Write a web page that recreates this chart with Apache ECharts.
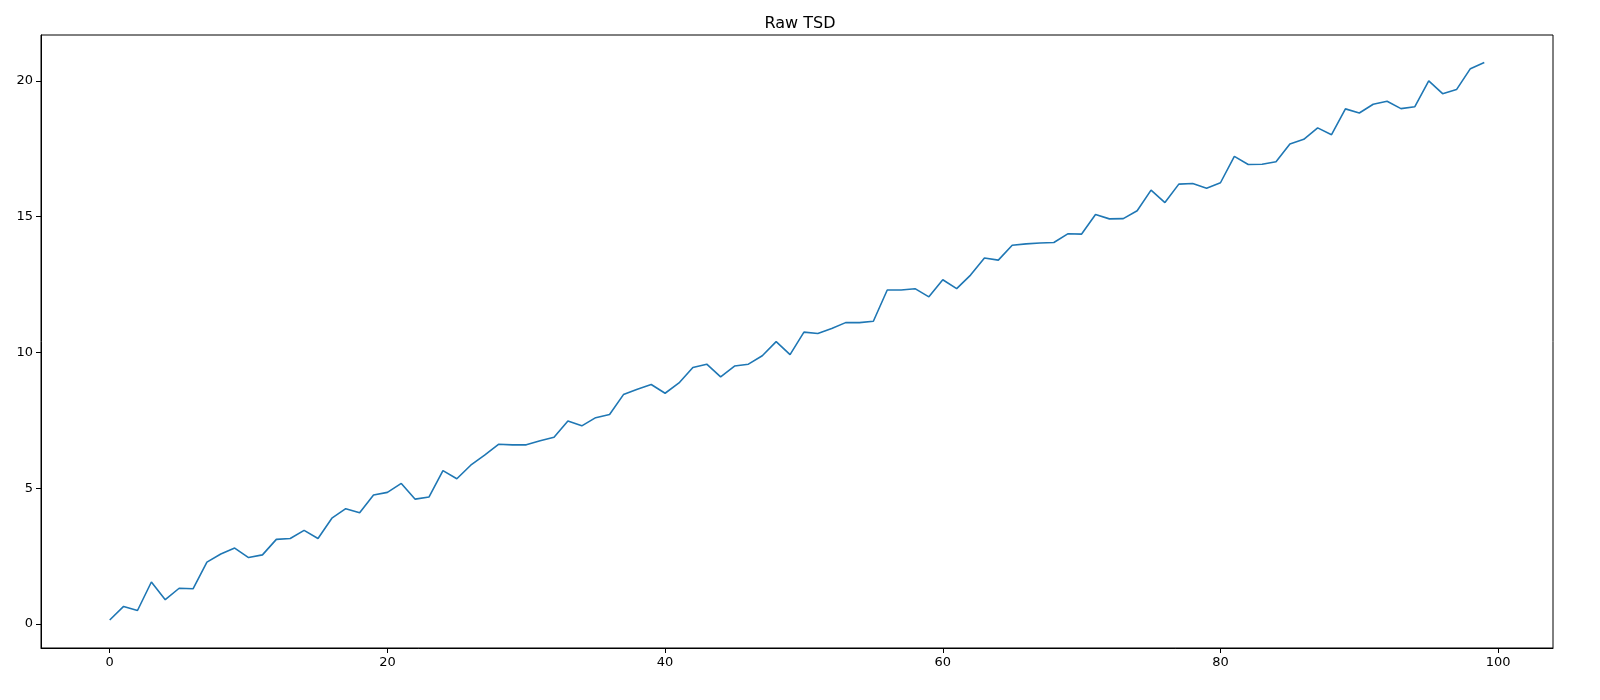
<!DOCTYPE html><html><head><meta charset="utf-8"><script src="https://cdn.jsdelivr.net/npm/echarts@6/dist/echarts.min.js"></script>
<style>html,body{margin:0;background:#fff;overflow:hidden}#c{width:1600px;height:700px}</style></head><body><div id="c"></div><script>
const values=[0.15,0.65,0.5,1.55,0.9,1.32,1.3,2.28,2.58,2.8,2.45,2.55,3.12,3.15,3.45,3.15,3.9,4.25,4.1,4.75,4.85,5.18,4.6,4.68,5.65,5.35,5.85,6.22,6.62,6.6,6.6,6.75,6.88,7.48,7.3,7.6,7.72,8.45,8.65,8.82,8.5,8.88,9.45,9.57,9.1,9.5,9.57,9.88,10.4,9.92,10.75,10.7,10.88,11.1,11.1,11.15,12.3,12.3,12.35,12.05,12.68,12.35,12.85,13.48,13.4,13.95,14.0,14.03,14.05,14.37,14.36,15.08,14.92,14.93,15.22,15.98,15.52,16.2,16.22,16.05,16.25,17.22,16.92,16.93,17.02,17.68,17.85,18.27,18.02,18.97,18.82,19.14,19.25,18.98,19.05,20.0,19.53,19.68,20.45,20.68];
const xTicks=[0,20,40,60,80,100];
const yTicks=[0,5,10,15,20];
const data=values.map((v,i)=>[i,v]);
const f='DejaVu Sans';
const ax={axisLine:{show:true,onZero:false,lineStyle:{color:'#000',width:1}},axisTick:{show:true,length:5,lineStyle:{color:'#000'}},axisLabel:{color:'#000',fontFamily:f,fontSize:13},splitLine:{show:false}};
echarts.init(document.getElementById('c')).setOption({
title:{text:'Raw TSD',left:'center',top:11,textStyle:{fontFamily:f,fontSize:16,fontWeight:'normal',color:'#000'}},
grid:{left:41,right:47,top:35,bottom:52,show:true,borderColor:'#000',borderWidth:1},
xAxis:{type:'value',min:-4.95,max:103.95,...ax,axisTick:{...ax.axisTick,customValues:xTicks},axisLabel:{...ax.axisLabel,customValues:xTicks,margin:8}},
yAxis:{type:'value',min:-0.88,max:21.69,...ax,axisTick:{...ax.axisTick,customValues:yTicks},axisLabel:{...ax.axisLabel,customValues:yTicks,margin:8}},
series:[{type:'line',data:data,showSymbol:false,lineStyle:{color:'#1f77b4',width:1.6},itemStyle:{color:'#1f77b4'},animation:false}]
});
</script></body></html>
